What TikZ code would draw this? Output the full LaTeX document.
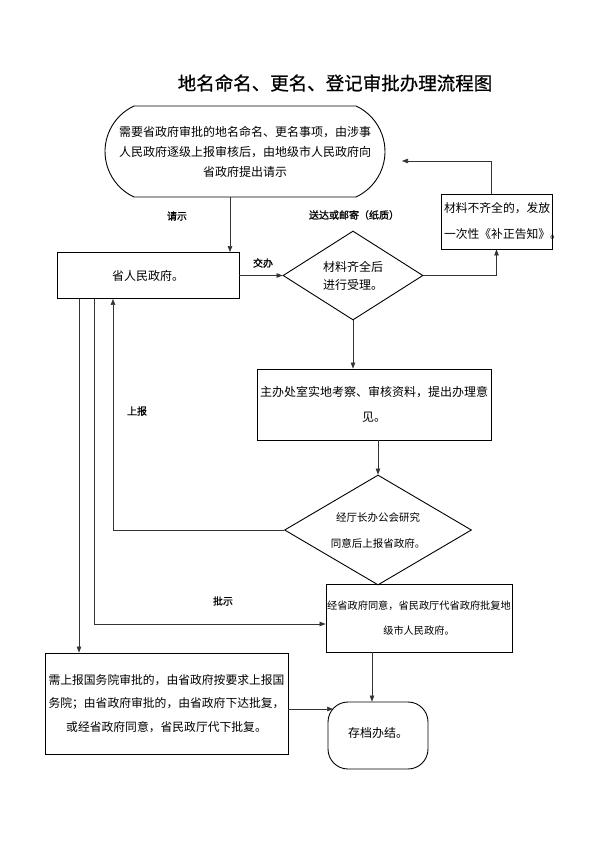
\documentclass[tikz,border=0pt]{standalone}
\usepackage{fontspec}
\setmainfont{Noto Sans CJK SC}
\newfontfamily\lblfont{Noto Sans CJK SC}[FakeBold=1.2]
\newfontfamily\ttlfont{Noto Sans CJK SC}[FakeBold=0.6]
\usetikzlibrary{shapes.geometric,shapes.misc,arrows.meta}
\begin{document}
\begin{tikzpicture}[x=1pt,y=-1pt,
  box/.style={draw=black, line width=0.9pt, rectangle, inner sep=0pt, align=center},
  dia/.style={draw=black, line width=0.9pt, diamond, inner sep=0pt, align=center},
  arr/.style={draw=black!80, line width=0.6pt, -{Triangle[length=6pt,width=4.5pt]}},
  lab/.style={font=\lblfont\fontsize{10}{12}\selectfont, inner sep=0pt}]
\useasboundingbox (0,0) rectangle (595,842);
\fill[white] (0,0) rectangle (595,842);

\node[font=\ttlfont\fontsize{18.5}{22}\selectfont, inner sep=0pt] (title) at (335,83) {地名命名、更名、登记审批办理流程图};

\node[draw=black, line width=0.9pt, rounded rectangle, rounded rectangle arc length=130,
      minimum width=280pt, minimum height=91pt, inner sep=0pt, align=center,
      font=\fontsize{12}{20}\selectfont] (top) at (245,151.5)
  {需要省政府审批的地名命名、更名事项，由涉事\\人民政府逐级上报审核后，由地级市人民政府向\\省政府提出请示};

\node[box, minimum width=182pt, minimum height=46pt, font=\fontsize{12}{14}\selectfont] (prov) at (148,275.5) {省人民政府。};

\node[dia, aspect=1.57, minimum width=140pt, minimum height=89pt, font=\fontsize{12}{18}\selectfont] (d1) at (353,275.5) {材料齐全后\\进行受理。};

\node[box, text width=105pt, inner xsep=3pt, minimum height=55pt, align=left, font=\fontsize{11.8}{26}\selectfont] (rb) at (496.5,221.5) {材料不齐全的，发放\\一次性《补正告知》。};

\node[box, minimum width=234pt, minimum height=71pt, font=\fontsize{12}{25}\selectfont] (off) at (374,404.5) {主办处室实地考察、审核资料，提出办理意\\见。};

\node[dia, aspect=1.7, minimum width=187pt, minimum height=110pt, font=\fontsize{10.5}{26}\selectfont] (d2) at (378,530) {经厅长办公会研究\\同意后上报省政府。};

\node[box, minimum width=186pt, minimum height=68pt, font=\fontsize{10.2}{25}\selectfont] (ap) at (419,618) {经省政府同意，省民政厅代省政府批复地\\级市人民政府。};

\node[box, minimum width=243pt, minimum height=101pt, font=\fontsize{11.8}{23.5}\selectfont] (bl) at (166.5,703.5) {需上报国务院审批的，由省政府按要求上报国\\务院；由省政府审批的，由省政府下达批复，\\或经省政府同意，省民政厅代下批复。};

\node[draw=black, line width=0.9pt, rectangle, rounded corners=20pt, minimum width=100pt, minimum height=67pt, inner sep=0pt, font=\fontsize{12}{14}\selectfont] (ar) at (378,735.5) {\raisebox{6pt}{存档办结。}};

% labels
\node[lab] (l1) at (177,216) {请示};
\node[lab] (l2) at (354,215) {送达或邮寄（纸质）};
\node[lab] (l3) at (263,263) {交办};
\node[lab] (l4) at (137,411) {上报};
\node[lab] (l5) at (223,601) {批示};

% connectors
\coordinate (xa) at (230,0);
\draw[arr] (top.south -| xa) -- (prov.north -| xa);
\draw[arr] (prov.east) -- (d1.west);
\draw[arr] (d1.east) -| (rb.south);
\coordinate (ret) at (402,161);
\draw[arr] ([xshift=-5pt]rb.north) |- (ret);
\draw[arr] (d1.south) -- (d1.south |- off.north);
\draw[arr] (d2.north |- off.south) -- (d2.north);
\coordinate (xb) at (113,0);
\draw[arr] (d2.west) -| (prov.south -| xb);
\coordinate (xc) at (94,624);
\draw[arr] (prov.south -| xc) |- (ap.west |- xc);
\coordinate (xd) at (79,0);
\draw[arr] (prov.south -| xd) -- (bl.north -| xd);
\coordinate (ye) at (333,709);
\draw[arr] (bl.east |- ye) -- (ye);
\coordinate (xf) at (372,0);
\draw[arr] (ap.south -| xf) -- (ar.north -| xf);
\end{tikzpicture}
\end{document}
